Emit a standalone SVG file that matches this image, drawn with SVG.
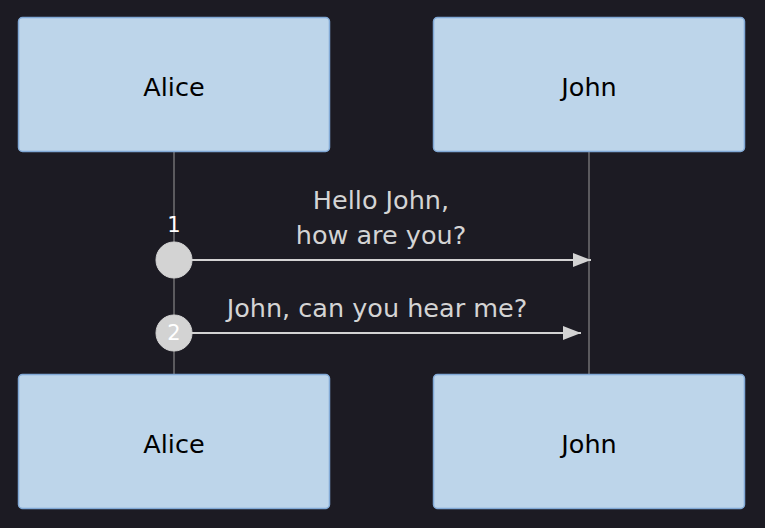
<svg xmlns="http://www.w3.org/2000/svg" width="765" height="528" viewBox="0 0 765 528">
<style>
.actor{fill:#bdd5ea;stroke:#81a9d6;stroke-width:1.5}
.atext{font-family:"DejaVu Sans",sans-serif;font-size:25.5px;fill:#000000;text-anchor:middle}
.life{stroke:#9a9a9a;stroke-width:1;fill:none}
.msg{stroke:#d3d3d3;stroke-width:2.2;fill:none}
.mtext{font-family:"DejaVu Sans",sans-serif;font-size:25.5px;fill:#d4d4d4;text-anchor:middle}
.seq{fill:#d3d3d3;stroke:#d3d3d3}
.seqtext{font-family:"DejaVu Sans",sans-serif;font-size:21px;fill:#ffffff;text-anchor:middle}
</style>
<defs>
<marker id="arrow" markerUnits="userSpaceOnUse" markerWidth="18" markerHeight="14" refX="18" refY="7" orient="auto">
<path d="M0,0 L18,7 L0,14 z" fill="#d3d3d3"/>
</marker>
</defs>
<rect width="765" height="528" fill="#1c1b23"/>
<g id="lifelines">
<line class="life" x1="174" y1="152" x2="174" y2="374"/>
<line class="life" x1="589" y1="152" x2="589" y2="374"/>
</g>
<g id="alice-top"><rect class="actor" x="18.5" y="17.5" width="311" height="134" rx="4"/><text class="atext" x="174" y="96">Alice</text></g>
<g id="john-top"><rect class="actor" x="433.5" y="17.5" width="311" height="134" rx="4"/><text class="atext" x="589" y="96">John</text></g>
<g id="alice-bottom"><rect class="actor" x="18.5" y="374.5" width="311" height="134" rx="4"/><text class="atext" x="174" y="453">Alice</text></g>
<g id="john-bottom"><rect class="actor" x="433.5" y="374.5" width="311" height="134" rx="4"/><text class="atext" x="589" y="453">John</text></g>
<g id="connectors">
<line class="msg" x1="174" y1="260" x2="591" y2="260" marker-end="url(#arrow)"/>
<line class="msg" x1="174" y1="333" x2="581" y2="333" marker-end="url(#arrow)"/>
</g>
<g id="labels">
<text class="mtext" x="381" y="209">Hello John,</text>
<text class="mtext" x="381" y="244">how are you?</text>
<text class="mtext" x="377" y="317">John, can you hear me?</text>
</g>
<g id="seq1"><circle class="seq" cx="174" cy="260" r="18"/><text class="seqtext" x="174" y="232">1</text></g>
<g id="seq2"><circle class="seq" cx="174" cy="333" r="18"/><text class="seqtext" x="174" y="340">2</text></g>
</svg>
